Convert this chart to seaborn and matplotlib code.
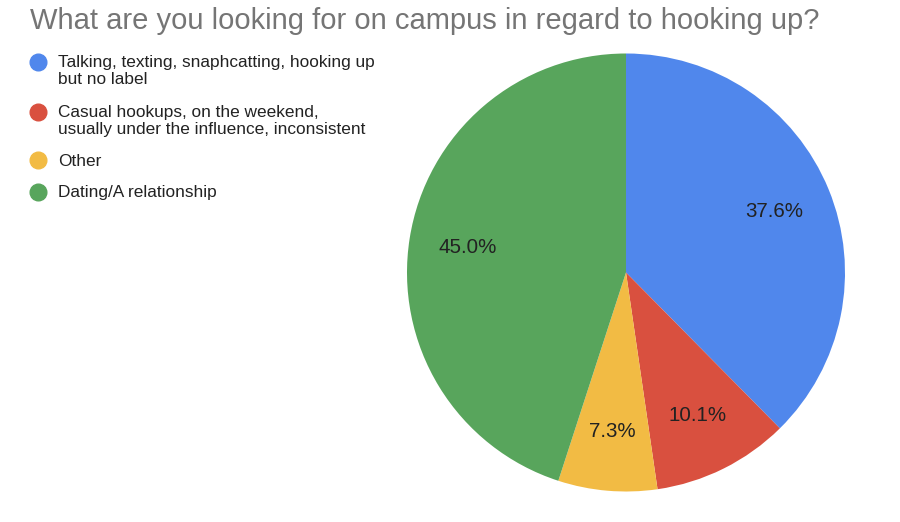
import matplotlib
matplotlib.use("Agg")
import matplotlib.pyplot as plt
from matplotlib.lines import Line2D
import seaborn as sns

TITLE = "What are you looking for on campus in regard to hooking up?"
categories = [
    "Talking, texting, snaphcatting, hooking up\nbut no label",
    "Casual hookups, on the weekend,\nusually under the influence, inconsistent",
    "Other",
    "Dating/A relationship",
]
shares = [37.6, 10.1, 7.3, 45.0]
colors = ["#5087EC", "#D9503F", "#F2BB44", "#58A55C"]

sns.set_theme(style="white")
plt.rcParams["font.family"] = ["Liberation Sans", "DejaVu Sans"]
palette = sns.color_palette(colors)

W, H = 900, 522
fig = plt.figure(figsize=(W / 100, H / 100), dpi=100)

# pie: centre (626, 272) px, radius 219 px
cx, cy, r = 626, 272.5, 219
ax = fig.add_axes([(cx - r) / W, (H - cy - r) / H, 2 * r / W, 2 * r / H])
wedges, _, autotexts = ax.pie(shares, colors=palette, startangle=90, counterclock=False,
                              autopct="%.1f%%", pctdistance=0.73,
                              wedgeprops={"linewidth": 0},
                              textprops={"fontsize": 14.8, "color": "#222222"})
ax.set_xlim(-1, 1)
ax.set_ylim(-1, 1)
ax.set_aspect("equal")
ax.axis("off")

fig.text(30 / W, 1 - 29 / H, TITLE, fontsize=21, color="#757575", va="baseline", ha="left")

# legend drawn by hand, one text per line so spacing is exact
legend_y = [62, 112, 160, 192]
line_step = 16.7
for lab, col, y in zip(categories, palette, legend_y):
    fig.add_artist(Line2D([37.5 / W], [1 - y / H], marker="o", markersize=12,
                          color=col, linestyle="none", transform=fig.transFigure))
    for k, line in enumerate(lab.split("\n")):
        fig.text(58 / W, 1 - (y + 5.5 + k * line_step) / H, line, fontsize=12.4,
                 color="#222222", va="baseline", ha="left")

fig.savefig("out.png", dpi=100)
